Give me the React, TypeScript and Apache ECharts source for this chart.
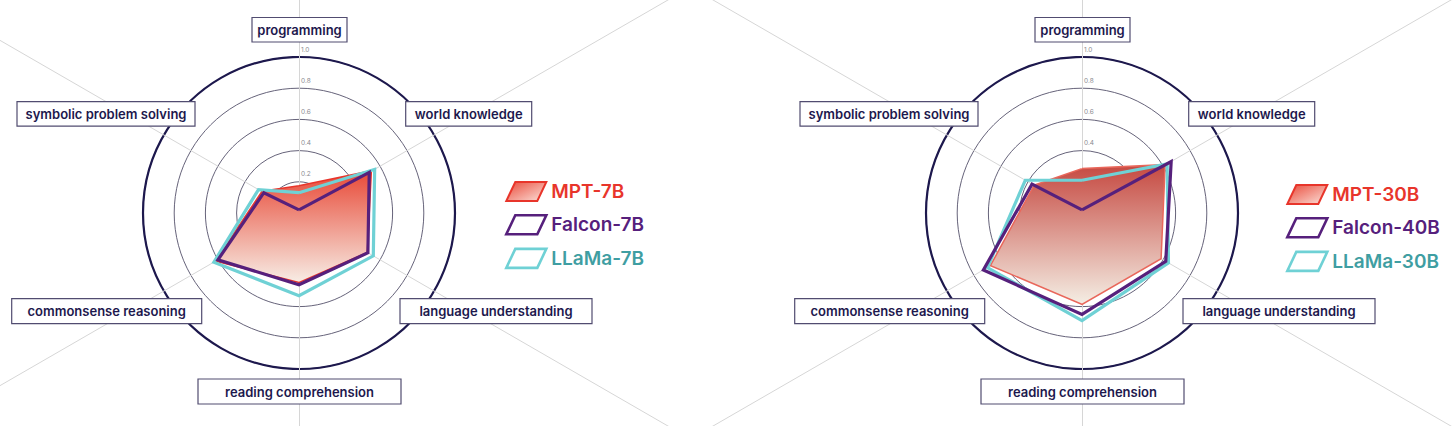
import React, { useEffect, useRef } from "react";
import * as echarts from "echarts";

// Axes in clockwise reading order (from the top)
const CATEGORIES = [
  "programming",
  "world knowledge",
  "language understanding",
  "reading comprehension",
  "commonsense reasoning",
  "symbolic problem solving",
];
// ECharts places indicators counter-clockwise from the top
const RADAR_ORDER = [0, 5, 4, 3, 2, 1];

const TICK_LABELS = ["0.2", "0.4", "0.6", "0.8", "1.0"];

// Left chart (7B models)
const MPT_7B = [0.17, 0.53, 0.5, 0.44, 0.61, 0.27];
const FALCON_7B = [0.02, 0.52, 0.51, 0.46, 0.6, 0.26];
const LLAMA_7B = [0.13, 0.56, 0.55, 0.53, 0.63, 0.3];

// Right chart (30B / 40B models)
const MPT_30B = [0.28, 0.61, 0.58, 0.58, 0.67, 0.35];
const FALCON_40B = [0.02, 0.66, 0.62, 0.65, 0.73, 0.37];
const LLAMA_30B = [0.21, 0.63, 0.64, 0.69, 0.7, 0.42];

const LEFT_NAMES = ["MPT-7B", "Falcon-7B", "LLaMa-7B"];
const RIGHT_NAMES = ["MPT-30B", "Falcon-40B", "LLaMa-30B"];

const CENTERS = [
  [299, 213],
  [1082, 213],
];
const R = 156;

const RED = "#e8352b";
const CORAL = "#e9675b";
const PURPLE = "#56207c";
const TEAL = "#6fd1d5";
const TEAL_TEXT = "#3f9ea2";
const NAVY = "#1d184d";

const PARA = "path://M9,0 L40,0 L31,19 L0,19 Z";

// label boxes relative to chart center: [left, top, width, height]
const BOXES: Record<string, number[]> = {
  programming: [-47, -195.5, 95, 24.5],
  "world knowledge": [106.7, -111.3, 126, 24.5],
  "symbolic problem solving": [-282, -111.3, 178, 24.5],
  "commonsense reasoning": [-287.3, 85.7, 190, 25],
  "language understanding": [101, 85.7, 192, 25],
  "reading comprehension": [-101, 166, 203, 25],
};

function reorder(vals: number[]) {
  return RADAR_ORDER.map((i) => vals[i]);
}

export default function App() {
  const ref = useRef<HTMLDivElement>(null);
  useEffect(() => {
    document.body.style.margin = "0";
    const chart = echarts.init(ref.current!, undefined, { renderer: "svg" });

    const tickFormatter = (v: number) => {
      const idx = Math.round(v / 0.2) - 1;
      return idx >= 0 && idx < TICK_LABELS.length ? TICK_LABELS[idx] : "";
    };

    const mainRadar = (c: number[]) => ({
      center: c,
      radius: R,
      startAngle: 90,
      splitNumber: 5,
      shape: "circle",
      indicator: RADAR_ORDER.map((ci, k) => ({
        name: CATEGORIES[ci],
        min: 0,
        max: 1,
        ...(k === 0 ? { axisLabel: { show: true } } : {}),
      })),
      axisName: { show: false },
      axisLine: { show: false },
      axisTick: { show: false },
      axisLabel: {
        show: false,
        align: "left",
        verticalAlign: "bottom",
        margin: -2,
        fontSize: 6.5,
        color: "#8a8a8f",
        fontFamily: "Inter",
        padding: [0, 0, 4, 0],
        formatter: tickFormatter,
      },
      splitLine: { lineStyle: { color: "#66637a", width: 1 } },
      splitArea: { show: false },
    });

    const axisRadar = (c: number[]) => ({
      center: c,
      radius: 1000,
      startAngle: 90,
      splitNumber: 1,
      shape: "circle",
      indicator: RADAR_ORDER.map((ci) => ({ name: CATEGORIES[ci], min: 0, max: 1 })),
      axisName: { show: false },
      axisLine: { show: true, lineStyle: { color: "#d6d6d6", width: 1 } },
      axisTick: { show: false },
      axisLabel: { show: false },
      splitLine: { show: false },
      splitArea: { show: false },
    });

    const ringRadar = (c: number[]) => ({
      center: c,
      radius: R,
      startAngle: 90,
      splitNumber: 1,
      shape: "circle",
      indicator: RADAR_ORDER.map((ci) => ({ name: CATEGORIES[ci], min: 0, max: 1 })),
      axisName: { show: false },
      axisLine: { show: false },
      axisTick: { show: false },
      axisLabel: { show: false },
      splitLine: { show: true, lineStyle: { color: NAVY, width: 2.2 } },
      splitArea: { show: false },
    });

    const areaGrad = (top: string, bottom: string) =>
      new echarts.graphic.LinearGradient(0, 0, 0, 1, [
        { offset: 0, color: top },
        { offset: 1, color: bottom },
      ]);
    const iconGrad = () =>
      new echarts.graphic.LinearGradient(0, 0, 1, 1, [
        { offset: 0, color: "#ea4a3a" },
        { offset: 1, color: "#fbe3dc" },
      ]);

    const makeSeries = (
      radarIndex: number,
      names: string[],
      mpt: number[],
      falcon: number[],
      llama: number[],
      mptLine: string,
      gradTop: string,
      gradBottom: string
    ) => [
      {
        type: "radar",
        radarIndex,
        symbol: "none",
        z: 3,
        data: [
          {
            name: names[0],
            value: reorder(mpt),
            lineStyle: { color: mptLine, width: 3, join: "miter" },
            itemStyle: { color: mptLine },
            areaStyle: { color: areaGrad(gradTop, gradBottom), opacity: 1 },
          },
        ],
      },
      {
        type: "radar",
        radarIndex,
        symbol: "none",
        z: 4,
        data: [
          {
            name: names[2],
            value: reorder(llama),
            lineStyle: { color: TEAL, width: 3.2, join: "miter" },
            itemStyle: { color: TEAL },
          },
        ],
      },
      {
        type: "radar",
        radarIndex,
        symbol: "none",
        z: 5,
        data: [
          {
            name: names[1],
            value: reorder(falcon),
            lineStyle: { color: PURPLE, width: 3.2, join: "miter" },
            itemStyle: { color: PURPLE },
          },
        ],
      },
    ];

    const makeLegend = (left: number, top: number, names: string[]) => ({
      orient: "vertical",
      left,
      top,
      padding: 0,
      itemWidth: 40,
      itemHeight: 19,
      itemGap: 12,
      icon: PARA,
      selectedMode: false,
      textStyle: {
        fontSize: 19,
        fontWeight: 600,
        fontFamily: "Inter",
        lineHeight: 19,
      },
      data: [
        {
          name: names[0],
          icon: PARA,
          textStyle: { color: RED },
          itemStyle: { color: iconGrad(), borderColor: RED, borderWidth: 2 },
        },
        {
          name: names[1],
          icon: PARA,
          textStyle: { color: PURPLE },
          itemStyle: { color: "#ffffff", borderColor: PURPLE, borderWidth: 2.6 },
        },
        {
          name: names[2],
          icon: PARA,
          textStyle: { color: TEAL_TEXT },
          itemStyle: { color: "#ffffff", borderColor: TEAL, borderWidth: 2.6 },
        },
      ],
    });

    const graphics: any[] = [];
    CENTERS.forEach((c) => {
      CATEGORIES.forEach((cat) => {
        const b = BOXES[cat];
        graphics.push({
          type: "rect",
          z: 100,
          shape: { x: c[0] + b[0], y: c[1] + b[1], width: b[2], height: b[3] },
          style: { fill: "#ffffff", stroke: "#514c70", lineWidth: 1.2 },
        });
        graphics.push({
          type: "text",
          z: 101,
          x: c[0] + b[0] + b[2] / 2,
          y: c[1] + b[1] + b[3] / 2,
          style: {
            text: cat,
            fill: NAVY,
            font: "600 13px Inter",
            textAlign: "center",
            textVerticalAlign: "middle",
            align: "center",
            verticalAlign: "middle",
          },
        });
      });
    });

    chart.setOption({
      animation: false,
      backgroundColor: "#ffffff",
      radar: [
        mainRadar(CENTERS[0]),
        mainRadar(CENTERS[1]),
        axisRadar(CENTERS[0]),
        axisRadar(CENTERS[1]),
        ringRadar(CENTERS[0]),
        ringRadar(CENTERS[1]),
      ],
      legend: [makeLegend(505, 181, LEFT_NAMES), makeLegend(1286, 184, RIGHT_NAMES)],
      series: [
        ...makeSeries(0, LEFT_NAMES, MPT_7B, FALCON_7B, LLAMA_7B, RED, "#e84a38", "#f7ece4"),
        ...makeSeries(1, RIGHT_NAMES, MPT_30B, FALCON_40B, LLAMA_30B, CORAL, "#c64a42", "#f4ede3"),
      ],
      graphic: graphics,
    });
    return () => chart.dispose();
  }, []);
  return <div ref={ref} style={{ width: 1456, height: 426 }} />;
}
